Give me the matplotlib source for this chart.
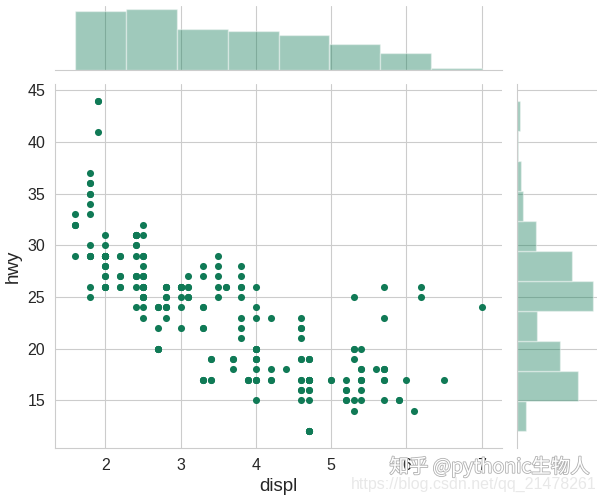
import numpy as np
import matplotlib
matplotlib.use("Agg")
import matplotlib.pyplot as plt
import matplotlib.patheffects as pe
import seaborn as sns

displ = [1.8,1.8,2.0,2.0,2.8,2.8,3.1,
         1.8,1.8,2.0,2.0,2.8,2.8,3.1,3.1,
         2.8,3.1,4.2,
         5.3,5.3,5.3,5.7,6.0,
         5.7,5.7,6.2,6.2,7.0,
         5.3,5.3,5.7,6.5,
         2.4,2.4,3.1,3.5,3.6,
         2.4,3.0,3.3,3.3,3.3,3.3,3.3,3.8,3.8,3.8,4.0,
         3.7,3.7,3.9,3.9,4.7,4.7,4.7,5.2,5.2,
         3.9,4.7,4.7,4.7,5.2,5.7,5.9,
         4.7,4.7,4.7,4.7,4.7,4.7,5.2,5.2,5.7,5.9,
         4.6,5.4,5.4,
         4.0,4.0,4.0,4.0,4.6,5.0,
         4.2,4.2,4.6,4.6,4.6,5.4,5.4,
         3.8,3.8,4.0,4.0,4.6,4.6,4.6,4.6,5.4,
         1.6,1.6,1.6,1.6,1.6,1.8,1.8,1.8,2.0,
         2.4,2.4,2.4,2.4,2.5,2.5,3.3,
         2.0,2.0,2.0,2.0,2.7,2.7,2.7,
         3.0,3.7,4.0,4.7,4.7,4.7,5.7,6.1,
         4.0,4.2,4.4,4.6,
         5.4,5.4,5.4,
         4.0,4.0,4.6,5.0,
         2.4,2.4,2.5,2.5,3.5,3.5,
         3.0,3.0,3.5,
         3.3,3.3,4.0,5.6,
         3.1,3.8,3.8,3.8,5.3,
         2.5,2.5,2.5,2.5,2.5,2.5,
         2.2,2.2,2.5,2.5,2.5,2.5,2.5,2.5,
         2.7,2.7,3.4,3.4,4.0,4.7,
         2.2,2.2,2.4,2.4,3.0,3.0,3.5,
         2.2,2.2,2.4,2.4,3.0,3.0,3.3,
         1.8,1.8,1.8,1.8,1.8,
         4.7,5.7,
         2.7,2.7,2.7,3.4,3.4,4.0,4.0,
         2.0,2.0,2.0,2.0,2.8,
         1.9,2.0,2.0,2.0,2.0,2.5,2.5,2.8,2.8,
         1.9,1.9,2.0,2.0,2.5,2.5,
         1.8,1.8,2.0,2.0,2.8,2.8,3.6]

hwy = [29,29,31,30,26,26,27,
       26,25,28,27,25,25,25,25,
       24,25,23,
       20,15,20,17,17,
       26,23,26,25,24,
       19,14,15,17,
       27,30,26,29,26,
       24,24,22,22,24,24,17,22,21,23,23,
       19,18,17,17,19,19,12,17,15,
       17,17,12,17,16,18,15,
       16,12,17,17,16,12,15,16,17,15,
       17,17,18,
       17,19,17,19,19,17,
       17,17,16,16,17,15,17,
       26,25,26,24,21,22,23,22,20,
       33,32,32,29,32,34,36,36,29,
       26,27,30,31,26,26,28,
       26,29,28,27,24,24,24,
       22,19,20,17,12,19,18,14,
       15,18,18,15,
       17,16,18,
       17,19,19,17,
       29,27,31,32,27,26,
       26,25,25,
       17,17,20,18,
       26,26,27,28,25,
       25,24,27,25,26,23,
       26,26,26,26,25,27,25,27,
       20,20,19,17,20,17,
       29,27,31,31,26,26,28,
       27,29,31,31,26,26,27,
       30,33,35,37,35,
       15,18,
       20,20,22,17,19,18,20,
       29,26,29,29,24,
       44,29,26,29,29,29,29,23,24,
       44,41,29,26,28,29,
       29,29,28,29,26,26,26]

x_ticks = [2, 3, 4, 5, 6, 7]
y_ticks = [15, 20, 25, 30, 35, 40, 45]
x_label = "displ"
y_label = "hwy"
n_bins_x = 8
n_bins_y = 11

sns.set_style("whitegrid")
plt.rcParams['font.family'] = ['Liberation Sans', 'DejaVu Sans']

color = "#107a56"
fig = plt.figure(figsize=(6, 5), dpi=100)
W, H = 600.0, 500.0
ax = fig.add_axes([55/W, 1-448/H, (502-55)/W, (448-84)/H])
axx = fig.add_axes([55/W, 1-70/H, (502-55)/W, (70-6)/H], sharex=ax)
axy = fig.add_axes([517/W, 1-448/H, (597-517)/W, (448-84)/H], sharey=ax)

ax.scatter(displ, hwy, s=26, color=color, linewidth=0, zorder=3)
ax.set_xticks(x_ticks)
ax.set_yticks(y_ticks)
ax.set_xlabel(x_label, fontsize=13.5, labelpad=4)
ax.set_ylabel(y_label, fontsize=13.5, labelpad=4)
ax.tick_params(labelsize=11.5, colors="#262626")
for s in ["top", "right"]:
    ax.spines[s].set_visible(False)

axx.hist(displ, bins=n_bins_x, color=color, alpha=0.4, edgecolor="white", linewidth=1)
axy.hist(hwy, bins=n_bins_y, color=color, alpha=0.4, edgecolor="white", linewidth=1,
         orientation="horizontal")

axx.yaxis.grid(False)
axy.xaxis.grid(False)
plt.setp(axx.get_xticklabels(), visible=False)
plt.setp(axx.get_yticklabels(), visible=False)
plt.setp(axy.get_xticklabels(), visible=False)
plt.setp(axy.get_yticklabels(), visible=False)
axx.tick_params(length=0)
axy.tick_params(length=0)
for s in ["top", "right", "left"]:
    axx.spines[s].set_visible(False)
for s in ["top", "right", "bottom"]:
    axy.spines[s].set_visible(False)

fig.text(590/W, 1-467/H, "知乎 @pythonic生物人", ha="right", va="center", fontsize=14,
         color="white", family=['Noto Sans CJK SC', 'DejaVu Sans'],
         path_effects=[pe.withStroke(linewidth=1.2, foreground="#b0b0b0")])
fig.text(597/W, 1-484/H, "https://blog.csdn.net/qq_21478261", ha="right", va="center",
         fontsize=11.5, color="#e6e6e6", alpha=0.9)

fig.savefig("out.png", dpi=100)
